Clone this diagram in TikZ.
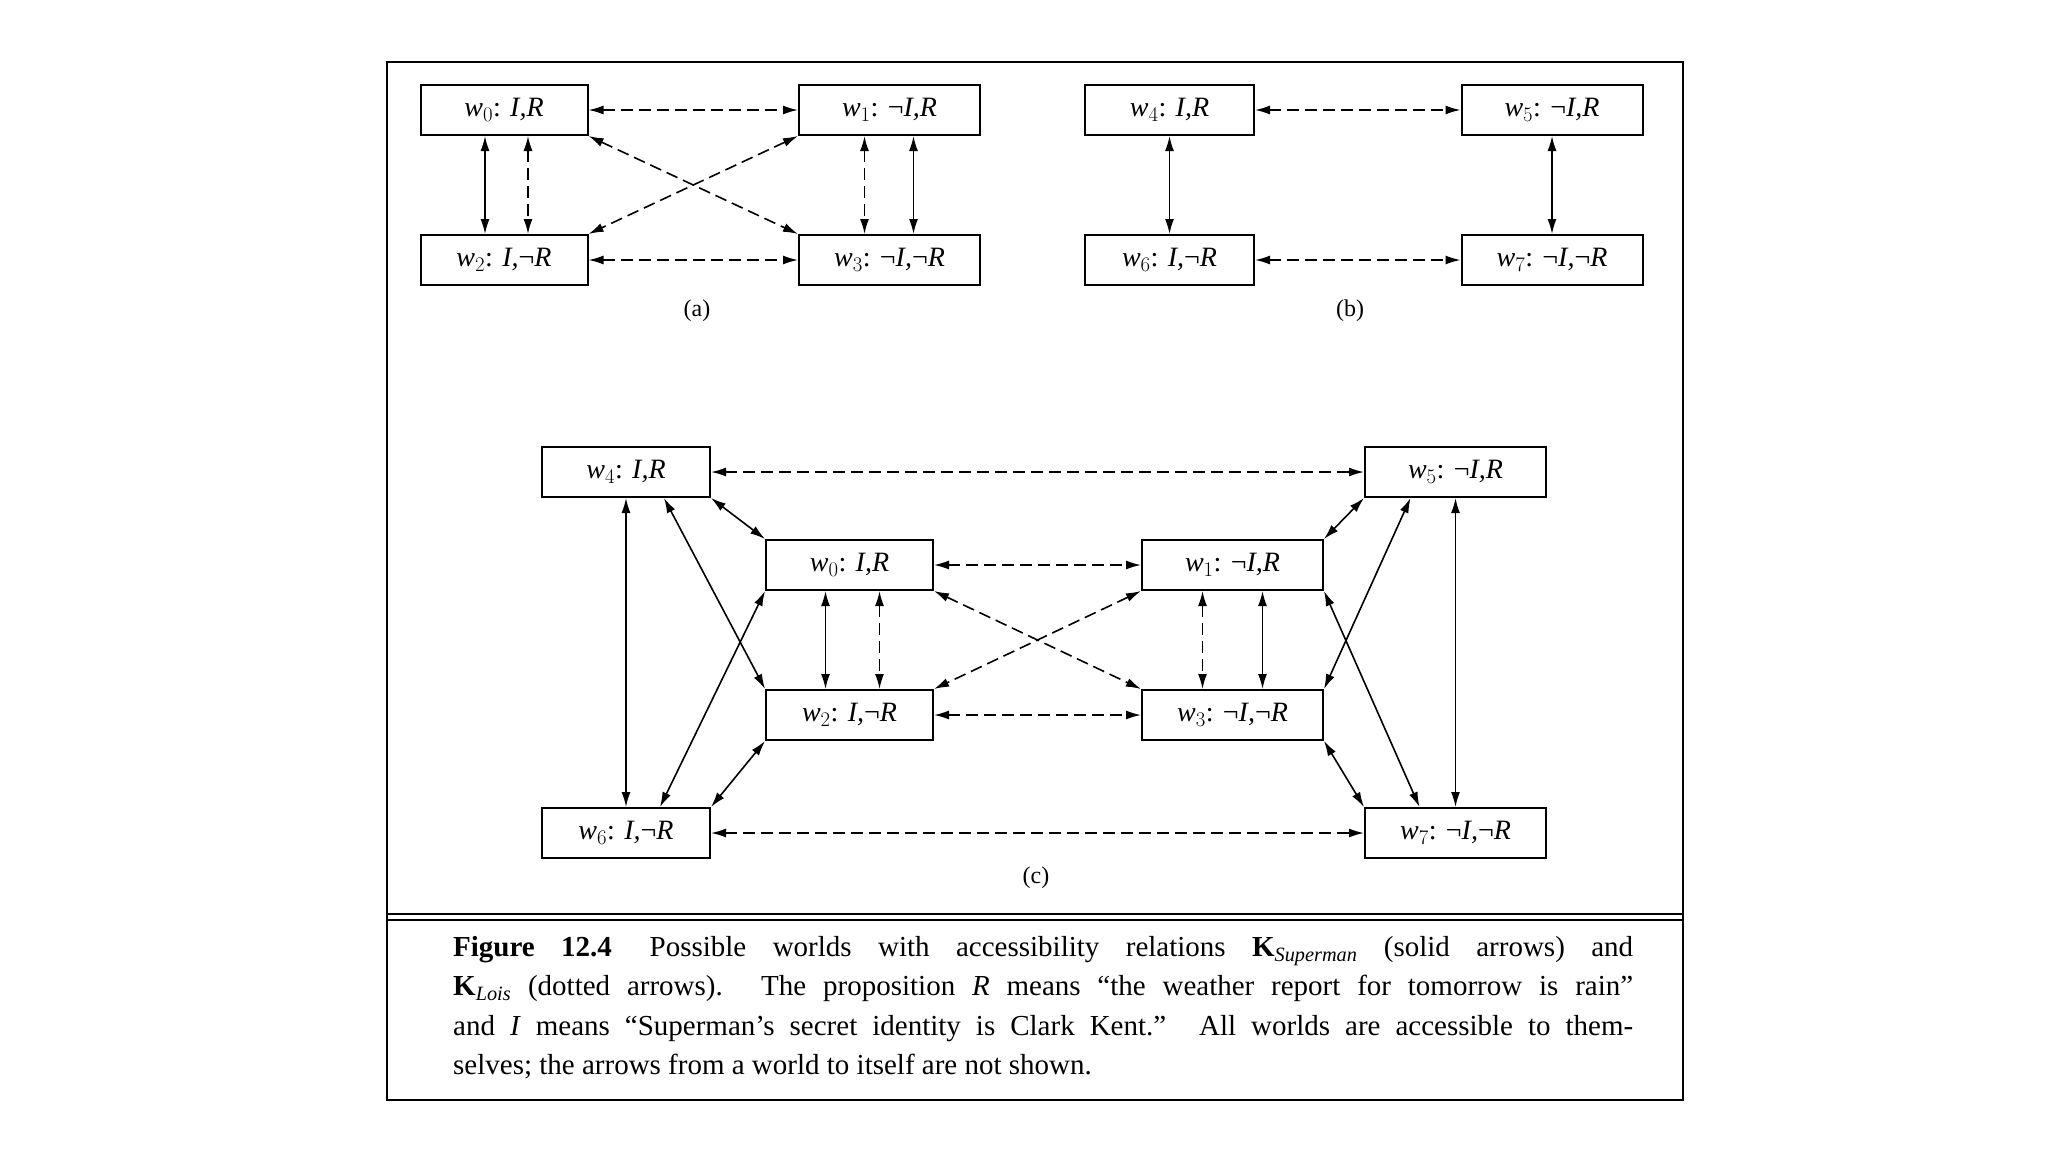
\documentclass[tikz,border=0pt]{standalone}
\usepackage{fontspec}
\setmainfont{Liberation Serif}
\usetikzlibrary{arrows.meta}
\begin{document}
\begin{tikzpicture}[x=1pt,y=-1pt,
  world/.style={draw,line width=2pt,minimum width=#1,minimum height=50pt,inner sep=0pt,font=\fontsize{28}{30}\selectfont},
  world/.default=167pt,
  wide/.style={world=181pt},
  rel/.style={line width=1.6pt,{Latex[length=15pt,width=9pt]}-{Latex[length=15pt,width=9pt]}},
  dsh/.style={rel,dash pattern=on 12pt off 6pt},
  lab/.style={font=\fontsize{24}{28}\selectfont}]
\useasboundingbox (0,0) rectangle (2048,1152);
\fill[white] (0,0) rectangle (2048,1152);
\draw[line width=2.5pt] (387,62) rectangle (1683,1100);
\draw[line width=1.5pt] (387,914) -- (1683,914) (387,920) -- (1683,920);
% (a)
\node[world] (a0) at (504,110) {\textit{w}$_0$: \textit{I,R}};
\node[wide] (a1) at (889.5,110) {\textit{w}$_1$: ¬\textit{I,R}};
\node[world] (a2) at (504,260) {\textit{w}$_2$: \textit{I,}¬\textit{R}};
\node[wide] (a3) at (889.5,260) {\textit{w}$_3$: ¬\textit{I,}¬\textit{R}};
\node[lab] (la) at (697,311) {(a)};
\draw[dsh] (a0) -- (a1);
\draw[dsh] (a2) -- (a3);
\draw[dsh] (a0.south east) -- (a3.north west);
\draw[dsh] (a1.south west) -- (a2.north east);
\draw[rel] ([xshift=-19pt]a0.south) -- ([xshift=-19pt]a2.north);
\draw[dsh] ([xshift=24pt]a0.south) -- ([xshift=24pt]a2.north);
\draw[dsh] ([xshift=-25pt]a1.south) -- ([xshift=-25pt]a3.north);
\draw[rel] ([xshift=24pt]a1.south) -- ([xshift=24pt]a3.north);
% (b)
\node[world=169pt] (b4) at (1169.5,110) {\textit{w}$_4$: \textit{I,R}};
\node[wide] (b5) at (1552,110) {\textit{w}$_5$: ¬\textit{I,R}};
\node[world=169pt] (b6) at (1169.5,260) {\textit{w}$_6$: \textit{I,}¬\textit{R}};
\node[wide] (b7) at (1552,260) {\textit{w}$_7$: ¬\textit{I,}¬\textit{R}};
\node[lab] (lb) at (1350,311) {(b)};
\draw[dsh] (b4) -- (b5);
\draw[dsh] (b6) -- (b7);
\draw[rel] (b4) -- (b6);
\draw[rel] (b5) -- (b7);
% (c)
\node[world=168pt] (c4) at (626,472) {\textit{w}$_4$: \textit{I,R}};
\node[wide] (c5) at (1455.5,472) {\textit{w}$_5$: ¬\textit{I,R}};
\node[world] (c0) at (849.5,565) {\textit{w}$_0$: \textit{I,R}};
\node[wide] (c1) at (1232.5,565) {\textit{w}$_1$: ¬\textit{I,R}};
\node[world] (c2) at (849.5,715) {\textit{w}$_2$: \textit{I,}¬\textit{R}};
\node[wide] (c3) at (1232.5,715) {\textit{w}$_3$: ¬\textit{I,}¬\textit{R}};
\node[world=168pt] (c6) at (626,833) {\textit{w}$_6$: \textit{I,}¬\textit{R}};
\node[wide] (c7) at (1455.5,833) {\textit{w}$_7$: ¬\textit{I,}¬\textit{R}};
\node[lab] (lc) at (1036,878) {(c)};
\draw[dsh] (c4) -- (c5);
\draw[dsh] (c6) -- (c7);
\draw[dsh] (c0) -- (c1);
\draw[dsh] (c2) -- (c3);
\draw[dsh] (c0.south east) -- (c3.north west);
\draw[dsh] (c1.south west) -- (c2.north east);
\draw[rel] ([xshift=-24pt]c0.south) -- ([xshift=-24pt]c2.north);
\draw[dsh] ([xshift=30pt]c0.south) -- ([xshift=30pt]c2.north);
\draw[dsh] ([xshift=-30pt]c1.south) -- ([xshift=-30pt]c3.north);
\draw[rel] ([xshift=30pt]c1.south) -- ([xshift=30pt]c3.north);
\draw[rel] (c4) -- (c6);
\draw[rel] (c5) -- (c7);
\draw[rel] (c4.south east) -- (c0.north west);
\draw[rel] (c6.north east) -- (c2.south west);
\draw[rel] (c5.south west) -- (c1.north east);
\draw[rel] (c7.north west) -- (c3.south east);
\draw[rel] ([xshift=38pt]c4.south) -- (c2.north west);
\draw[rel] ([xshift=34pt]c6.north) -- (c0.south west);
\draw[rel] ([xshift=-45pt]c5.south) -- (c3.north east);
\draw[rel] ([xshift=-36pt]c7.north) -- (c1.south east);
% caption
\node[anchor=north west,inner sep=0pt,text width=1180pt,align=justify,
  font=\fontsize{29}{39.5}\selectfont] (cap) at (453,936)
{\textbf{Figure 12.4}\hspace{1.3em}Possible worlds with accessibility relations \textbf{K}$_{\mathit{Superman}}$ (solid arrows) and\linebreak \textbf{K}$_{\mathit{Lois}}$ (dotted arrows). The proposition \textit{R} means “the weather report for tomorrow is rain”\linebreak and \textit{I} means “Superman’s secret identity is Clark Kent.” All worlds are accessible to them-\linebreak selves; the arrows from a world to itself are not shown.};
\end{tikzpicture}
\end{document}
